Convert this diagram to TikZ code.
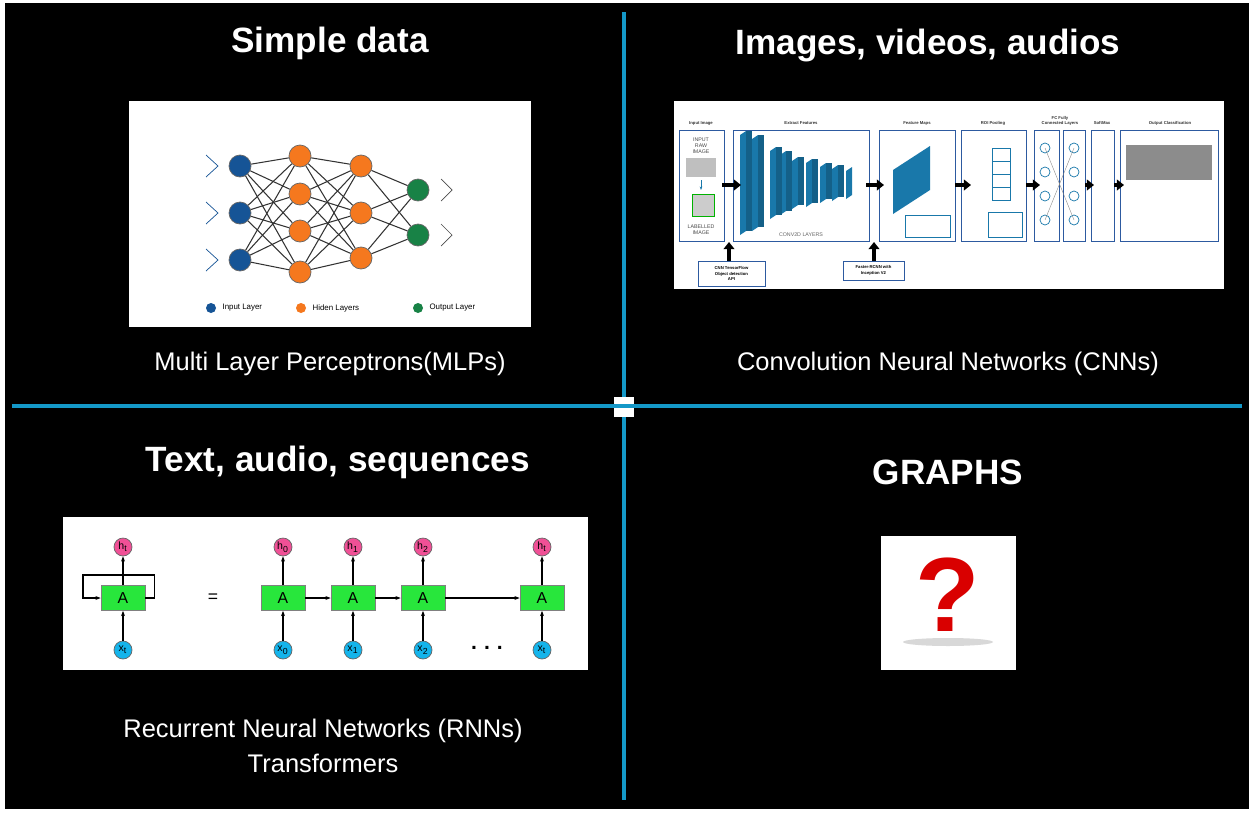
\documentclass[tikz,border=0pt]{standalone}
\usepackage{fontspec}
\setmainfont{Liberation Sans}
\usetikzlibrary{positioning,arrows.meta}
\definecolor{sepblue}{RGB}{20,152,200}
\definecolor{inblue}{RGB}{22,84,150}
\definecolor{hidorange}{RGB}{245,120,30}
\definecolor{outgreen}{RGB}{24,130,70}
\definecolor{cnnblue}{RGB}{25,120,170}
\definecolor{boxblue}{RGB}{45,90,160}
\definecolor{hpink}{RGB}{240,80,150}
\definecolor{xcyan}{RGB}{20,180,235}
\definecolor{agreen}{RGB}{40,230,60}
\tikzset{
  title/.style={text=white,font=\bfseries\fontsize{20}{24}\selectfont},
  caption/.style={text=white,font=\fontsize{14.5}{18}\selectfont,align=center},
  neuron/.style={circle,draw=black!60,thin,minimum size=0.44cm,inner sep=0pt},
  link/.style={line width=0.6pt,black!80},
  stage/.style={draw=boxblue,line width=0.5pt},
  stagelbl/.style={font=\bfseries\fontsize{2.4}{3}\selectfont,text=black!80},
  bigarrow/.style={-{Triangle[length=4pt,width=6pt]},line width=2.2pt},
  cell/.style={draw=black!50,fill=agreen,minimum width=0.88cm,minimum height=0.5cm,inner sep=0pt,font=\fontsize{9}{10}\selectfont},
  hstate/.style={circle,draw=black!60,fill=hpink,minimum size=0.36cm,inner sep=0pt,font=\fontsize{6}{7}\selectfont},
  xstate/.style={circle,draw=black!60,fill=xcyan,minimum size=0.36cm,inner sep=0pt,font=\fontsize{6}{7}\selectfont},
  rnnarrow/.style={-{Stealth[length=3pt]},line width=0.6pt}
}
\begin{document}
\begin{tikzpicture}[x=0.02cm,y=-0.02cm]
        % fond
        \useasboundingbox (0,0) rectangle (1254,818);
        \fill[white] (0,0) rectangle (1254,818);
        \fill[black] (5,3) rectangle (1249,809);

        % separations
        \fill[white] (614,397) rectangle (634,417);
        \draw[sepblue,line width=2.4pt] (624,12) -- (624,397);
        \draw[sepblue,line width=2.4pt] (624,417) -- (624,800);
        \draw[sepblue,line width=2.4pt] (12,406) -- (1242,406);

        % titres
        \draw (330,43) node[title] (tSimple) {Simple data};
        \draw (928,45) node[title] (tImages) {Images, videos, audios};
        \draw (338,462) node[title] (tText) {Text, audio, sequences};
        \draw (948,472) node[title] (tGraphs) {GRAPHS};

        % legendes
        \draw (330,364) node[caption] (cMLP) {Multi Layer Perceptrons(MLPs)};
        \draw (948,364) node[caption] (cCNN) {Convolution Neural Networks (CNNs)};
        \draw (323,746) node[caption] (cRNN) {Recurrent Neural Networks (RNNs)\\[2pt]Transformers};

        % MLP
        \fill[white] (129,101) rectangle (531,327);
        \foreach \i/\y in {1/166,2/213,3/260}
            \draw (240,\y) node[neuron,fill=inblue] (in\i) {};
        \foreach \i/\y in {1/156,2/194,3/231,4/272}
            \draw (300,\y) node[neuron,fill=hidorange] (ha\i) {};
        \foreach \i/\y in {1/166,2/213,3/258}
            \draw (361,\y) node[neuron,fill=hidorange] (hb\i) {};
        \foreach \i/\y in {1/190,2/235}
            \draw (418,\y) node[neuron,fill=outgreen] (out\i) {};
        \foreach \i in {1,2,3} \foreach \j in {1,...,4}
            \draw[link] (in\i) -- (ha\j);
        \foreach \i in {1,...,4} \foreach \j in {1,2,3}
            \draw[link] (ha\i) -- (hb\j);
        \foreach \i in {1,2,3} \foreach \j in {1,2}
            \draw[link] (hb\i) -- (out\j);
        \foreach \y in {166,213,260}
            \draw[inblue,thin] (206,\y-11) -- (218,\y) -- (206,\y+11);
        \foreach \y in {190,235}
            \draw[black!70,thin] (441,\y-11) -- (452,\y) -- (441,\y+11);
        \draw (211,308) node[circle,fill=inblue,minimum size=0.2cm,inner sep=0pt] (legIn) {};
        \node[right=0pt of legIn,font=\fontsize{4.5}{5}\selectfont] {Input Layer};
        \draw (301,308) node[circle,fill=hidorange,minimum size=0.2cm,inner sep=0pt] (legHid) {};
        \node[right=0pt of legHid,font=\fontsize{4.5}{5}\selectfont] {Hiden Layers};
        \draw (418,308) node[circle,fill=outgreen,minimum size=0.2cm,inner sep=0pt] (legOut) {};
        \node[right=0pt of legOut,font=\fontsize{4.5}{5}\selectfont] {Output Layer};

        % CNN
        \fill[white] (674,101) rectangle (1224,289);
        \draw[stage] (679,130) rectangle (724,241);
        \draw[stage] (733,130) rectangle (869,241);
        \draw[stage] (879,130) rectangle (955,241);
        \draw[stage] (961,130) rectangle (1026,241);
        \draw[stage] (1034,130) rectangle (1059,241);
        \draw[stage] (1063,130) rectangle (1085,241);
        \draw[stage] (1091,130) rectangle (1114,241);
        \draw[stage] (1120,130) rectangle (1218,241);
        \draw (701,123) node[stagelbl] {Input Image};
        \draw (801,123) node[stagelbl] {Extract Features};
        \draw (917,123) node[stagelbl] {Feature Maps};
        \draw (993,123) node[stagelbl] {ROI Pooling};
        \draw (1060,121) node[stagelbl,align=center] {FC Fully\\Connected Layers};
        \draw (1102,123) node[stagelbl] {SoftMax};
        \draw (1170,123) node[stagelbl] {Output Classification};
        \draw (701,146) node[font=\fontsize{3}{3.5}\selectfont,align=center,text=black!70] {INPUT\\RAW\\IMAGE};
        \draw (701,230) node[font=\fontsize{3}{3.5}\selectfont,align=center,text=black!70] {LABELLED\\IMAGE};
        \fill[black!25] (686,158) rectangle (716,177);
        \draw[green!70!black,fill=black!20] (692,194) rectangle (714,216);
        \draw[-{Stealth[length=2pt]},cnnblue] (701,180) -- (701,190);
        % couches conv
        \foreach \x/\h in {740/50,752/46,770/34,780/30,792/24,806/22,820/18,832/16,846/14}
            \fill[cnnblue] (\x,185-\h) -- (\x+6,185-\h-4) -- (\x+6,185+\h-4) -- (\x,185+\h) -- cycle;
        \foreach \x/\h in {740/50,752/46,770/34,780/30,792/24,806/22,820/18,832/16}
            \fill[cnnblue!80!black] (\x+6,185-\h-4) rectangle (\x+12,185+\h-4);
        \draw (801,235) node[font=\fontsize{3}{3.5}\selectfont,text=black!60] {CONV2D LAYERS};
        \fill[cnnblue] (893,170) -- (930,146) -- (930,190) -- (893,214) -- cycle;
        \draw[cnnblue] (905,215) rectangle (950,237);
        \draw[cnnblue] (992,148) rectangle (1010,200);
        \foreach \y in {161,174,187} \draw[cnnblue] (992,\y) -- (1010,\y);
        \draw[cnnblue] (988,212) rectangle (1022,237);
        \foreach \x in {1045,1074} \foreach \y in {148,172,196,220}
            \draw[cnnblue,thin] (\x,\y) circle (5);
        \draw[black!50,very thin] (1045,148) -- (1074,220) (1045,220) -- (1074,148);
        \fill[black!45] (1126,145) rectangle (1212,180);
        % fleches
        \draw (724,185) node (aIn) {};
        \draw (869,185) node (aFeat) {};
        \draw[bigarrow] (722,185) -- (741,185);
        \draw[bigarrow] (866,185) -- (884,185);
        \draw[bigarrow] (955,185) -- (971,185);
        \draw[bigarrow] (1026,185) -- (1040,185);
        \draw[bigarrow] (1085,185) -- (1094,185);
        \draw[bigarrow] (1114,185) -- (1124,185);
        \draw[stage,fill=white] (698,261) rectangle node[stagelbl,align=center,text=black] {CNN TensorFlow\\Object detection\\API} (765,286);
        \draw[stage,fill=white] (843,261) rectangle node[stagelbl,align=center,text=black] {Faster-RCNN with\\Inception V2} (904,280);
        \draw[bigarrow] (729,261) -- (729,242);
        \draw[bigarrow] (874,261) -- (874,242);

        % RNN
        \fill[white] (63,517) rectangle (588,670);
        \draw (123,598) node[cell] (A) {A};
        \draw (123,547) node[hstate] (ht) {h\textsubscript{t}};
        \draw (123,650) node[xstate] (xt) {x\textsubscript{t}};
        \draw[rnnarrow] (xt) -- (A);
        \draw[rnnarrow] (A) -- (ht);
        \draw[rnnarrow] (A.east) -- ++(9,0) |- (123,575) -| (83,598) -- (A.west);
        \draw (213,598) node[font=\fontsize{10}{12}\selectfont] (eq) {=};
        \foreach \i/\x/\s in {0/283/0,1/353/1,2/423/2,3/542/t}
        {
            \draw (\x,598) node[cell] (A\i) {A};
            \draw (\x,547) node[hstate] (h\i) {h\textsubscript{\s}};
            \draw (\x,650) node[xstate] (x\i) {x\textsubscript{\s}};
            \draw[rnnarrow] (x\i) -- (A\i);
            \draw[rnnarrow] (A\i) -- (h\i);
        }
        \draw[rnnarrow] (A0) -- (A1);
        \draw[rnnarrow] (A1) -- (A2);
        \draw[rnnarrow] (A2) -- (A3);
        \draw (487,648) node[font=\bfseries\fontsize{12}{12}\selectfont] (dots) {.\,\,.\,\,.};

        % GRAPHS
        \fill[white] (881,536) rectangle (1016,670);
        \fill[black!30,opacity=0.5] (948,642) ellipse (45 and 4);
        \draw (948,595) node[text=red!85!black,font=\bfseries\fontsize{60}{60}\selectfont] (qmark) {?};
\end{tikzpicture}
\end{document}
